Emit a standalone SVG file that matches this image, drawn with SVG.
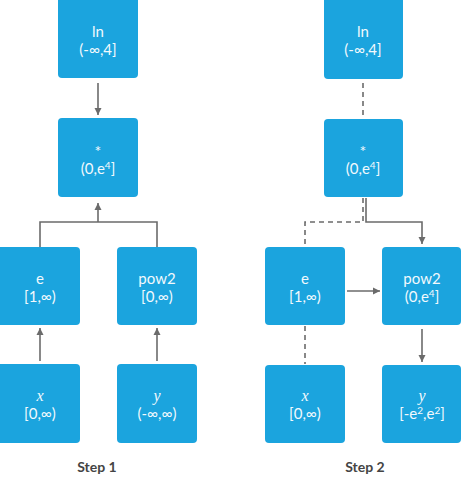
<svg xmlns="http://www.w3.org/2000/svg" width="474" height="504" viewBox="0 0 474 504">
<style>
.box{fill:#1ba4de}
.t{font-family:Lato,"Open Sans","Liberation Sans",sans-serif;font-size:15px;fill:#f2f9fd;text-anchor:middle}
.v{font-family:"Liberation Serif",serif;font-style:italic;font-size:16px;fill:#f2f9fd;text-anchor:middle}
.star{font-size:16px}
.sup{font-size:10px}
.ln{stroke:#6b6b6b;stroke-width:1.6;fill:none}
.dash{stroke:#6b6b6b;stroke-width:1.6;fill:none;stroke-dasharray:5,4}
.cap{font-family:Lato,"Open Sans","Liberation Sans",sans-serif;font-size:14px;font-weight:bold;fill:#444;text-anchor:middle}
</style>
<defs>
<marker id="ah" viewBox="0 0 10 10" refX="10" refY="5" markerWidth="4.5" markerHeight="4.5" orient="auto" markerUnits="strokeWidth">
<path d="M0,0 L10,5 L0,10 z" fill="#6b6b6b"/>
</marker>
</defs>
<rect width="474" height="504" fill="#fff"/>
<g id="connectors">
<line class="ln" x1="98" y1="83" x2="98" y2="115" marker-end="url(#ah)"/>
<polyline class="ln" points="40,247 40,222 157,222 157,247"/>
<line class="ln" x1="98" y1="222" x2="98" y2="203" marker-end="url(#ah)"/>
<line class="ln" x1="40" y1="361" x2="40" y2="328" marker-end="url(#ah)"/>
<line class="ln" x1="157" y1="361" x2="157" y2="328" marker-end="url(#ah)"/>
<line class="dash" x1="363" y1="83" x2="363" y2="118"/>
<polyline class="dash" points="363,198 363,222 305,222 305,247"/>
<polyline class="ln" points="366,198 366,222 422,222 422,244" marker-end="url(#ah)"/>
<line class="ln" x1="347" y1="291" x2="380" y2="291" marker-end="url(#ah)"/>
<line class="dash" x1="305" y1="326" x2="305" y2="364"/>
<line class="ln" x1="422" y1="329" x2="422" y2="362" marker-end="url(#ah)"/>
</g>
<g id="s1-ln"><rect class="box" x="58" y="-4" width="80" height="82" rx="4"/><text class="t" x="98" y="37">ln</text><text class="t" x="98" y="55">(-∞,4]</text></g>
<g id="s1-mul"><rect class="box" x="58" y="118" width="80" height="79" rx="4"/><text class="t star" x="98" y="157">*</text><text class="t" x="98" y="174">(0,e<tspan class="sup" dy="-5">4</tspan><tspan dy="5">]</tspan></text></g>
<g id="s1-e"><rect class="box" x="-4" y="247" width="84" height="78" rx="4"/><text class="t" x="40" y="284">e</text><text class="t" x="40" y="302">[1,∞)</text></g>
<g id="s1-pow2"><rect class="box" x="117" y="247" width="80" height="78" rx="4"/><text class="t" x="157" y="284">pow2</text><text class="t" x="157" y="302">[0,∞)</text></g>
<g id="s1-x"><rect class="box" x="-4" y="364" width="84" height="79" rx="4"/><text class="v" x="40" y="401">x</text><text class="t" x="40" y="419">[0,∞)</text></g>
<g id="s1-y"><rect class="box" x="117" y="364" width="80" height="79" rx="4"/><text class="v" x="157" y="401">y</text><text class="t" x="157" y="419">(-∞,∞)</text></g>
<g id="s2-ln"><rect class="box" x="324" y="-4" width="79" height="83" rx="4"/><text class="t" x="363" y="37">ln</text><text class="t" x="363" y="55">(-∞,4]</text></g>
<g id="s2-mul"><rect class="box" x="324" y="119" width="79" height="78" rx="4"/><text class="t star" x="363" y="157">*</text><text class="t" x="363" y="174">(0,e<tspan class="sup" dy="-5">4</tspan><tspan dy="5">]</tspan></text></g>
<g id="s2-e"><rect class="box" x="265" y="247" width="80" height="78" rx="4"/><text class="t" x="305" y="284">e</text><text class="t" x="305" y="302">[1,∞)</text></g>
<g id="s2-pow2"><rect class="box" x="382" y="247" width="79" height="78" rx="4"/><text class="t" x="422" y="284">pow2</text><text class="t" x="422" y="302">(0,e<tspan class="sup" dy="-5">4</tspan><tspan dy="5">]</tspan></text></g>
<g id="s2-x"><rect class="box" x="265" y="365" width="80" height="78" rx="4"/><text class="v" x="305" y="401">x</text><text class="t" x="305" y="419">[0,∞)</text></g>
<g id="s2-y"><rect class="box" x="382" y="365" width="79" height="78" rx="4"/><text class="v" x="422" y="401">y</text><text class="t" x="422" y="419">[-e<tspan class="sup" dy="-5">2</tspan><tspan dy="5">,e</tspan><tspan class="sup" dy="-5">2</tspan><tspan dy="5">]</tspan></text></g>
<text class="cap" x="97" y="472">Step 1</text>
<text class="cap" x="365" y="472">Step 2</text>
</svg>
